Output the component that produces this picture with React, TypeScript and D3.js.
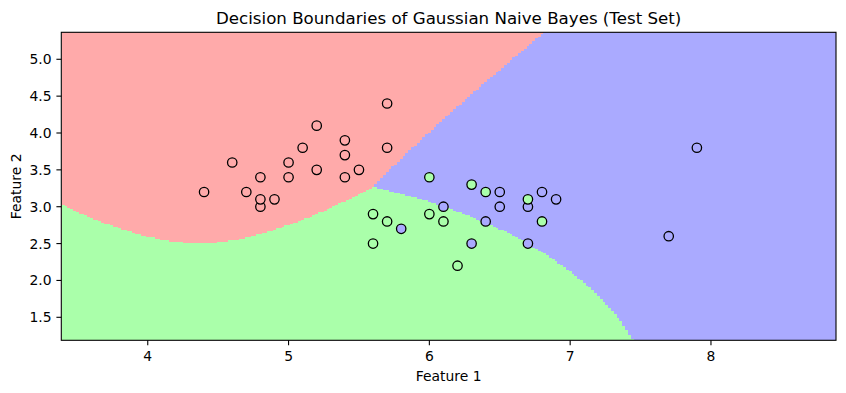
import React, { useMemo } from 'react';
import * as d3 from 'd3';

// ---- Test-set points (Feature 1, Feature 2, class) ----
const pointX = [
  4.4, 4.6, 4.7, 4.8, 4.8, 4.8, 4.9, 5.0, 5.0, 5.1, 5.2, 5.2, 5.4, 5.4, 5.4, 5.5, 5.7, 5.7,
  5.8, 6.5, 6.5, 6.8, 6.9, 6.3, 6.7, 6.7, 7.7, 7.9, 6.1, 6.4,
  6.0, 6.3, 6.4, 6.7, 6.8, 5.6, 5.7, 5.6, 6.0, 6.1, 6.2,
];
const pointY = [
  3.2, 3.6, 3.2, 3.4, 3.0, 3.1, 3.1, 3.6, 3.4, 3.8, 4.1, 3.5, 3.9, 3.7, 3.4, 3.5, 4.4, 3.8,
  2.7, 3.2, 3.0, 3.2, 3.1, 2.5, 2.5, 3.0, 2.6, 3.8, 3.0, 2.8,
  3.4, 3.3, 3.2, 3.1, 2.8, 2.9, 2.8, 2.5, 2.9, 2.8, 2.2,
];
const pointClass = [
  0, 0, 0, 0, 0, 0, 0, 0, 0, 0, 0, 0, 0, 0, 0, 0, 0, 0,
  2, 2, 2, 2, 2, 2, 2, 2, 2, 2, 2, 2,
  1, 1, 1, 1, 1, 1, 1, 1, 1, 1, 1,
];

// ---- Fitted Gaussian Naive Bayes parameters (per class) ----
const classColors = ['#FFAAAA', '#AAFFAA', '#AAAAFF'];
const classMeanX = [4.959, 5.882, 6.555];
const classMeanY = [3.393, 2.733, 2.982];
const classVarX = [0.109, 0.279, 0.412];
const classVarY = [0.132, 0.0863, 0.0947];
const classPrior = [0.324, 0.358, 0.349];

// ---- Axis ticks ----
const xTicks = [4, 5, 6, 7, 8];
const yTicks = [1.5, 2.0, 2.5, 3.0, 3.5, 4.0, 4.5, 5.0];

// ---- Mesh grid definition ----
const meshStep = 0.02;
const meshX0 = 3.4;
const meshX1 = 8.88;
const meshY0 = 1.2;
const meshY1 = 5.38;

const W = 846;
const H = 393;
const L = 61.3, R = 836, T = 32.3, B = 340.3;
const FONT = '"DejaVu Sans", sans-serif';

const xScale = d3.scaleLinear().domain([3.386, 8.888]).range([L, R]);
const yScale = d3.scaleLinear().domain([1.188, 5.366]).range([B, T]);

function predict(x: number, y: number): number {
  let best = 0;
  let bestV = -Infinity;
  for (let k = 0; k < classPrior.length; k++) {
    const v =
      Math.log(classPrior[k]) -
      0.5 * Math.log(2 * Math.PI * classVarX[k]) -
      0.5 * Math.log(2 * Math.PI * classVarY[k]) -
      ((x - classMeanX[k]) ** 2) / (2 * classVarX[k]) -
      ((y - classMeanY[k]) ** 2) / (2 * classVarY[k]);
    if (v > bestV) {
      bestV = v;
      best = k;
    }
  }
  return best;
}

type Run = { x0: number; x1: number; y: number; c: number };

export default function App() {
  const runs = useMemo(() => {
    const nx = Math.round((meshX1 - meshX0) / meshStep) + 1;
    const ny = Math.round((meshY1 - meshY0) / meshStep) + 1;
    const out: Run[] = [];
    for (let j = 0; j < ny; j++) {
      const y = meshY0 + j * meshStep;
      let start = 0;
      let cur = predict(meshX0, y);
      for (let i = 1; i <= nx; i++) {
        const c = i < nx ? predict(meshX0 + i * meshStep, y) : -1;
        if (c !== cur) {
          out.push({ x0: meshX0 + start * meshStep, x1: meshX0 + (i - 1) * meshStep, y, c: cur });
          start = i;
          cur = c;
        }
      }
    }
    return out;
  }, []);

  const h = meshStep / 2;

  return (
    <svg
      width={W}
      height={H}
      viewBox={`0 0 ${W} ${H}`}
      style={{ position: 'absolute', left: 0, top: 0, background: '#fff' }}
      fontFamily={FONT}
    >
      <defs>
        <clipPath id="plotClip">
          <rect x={L} y={T} width={R - L} height={B - T} />
        </clipPath>
      </defs>
      <g clipPath="url(#plotClip)" shapeRendering="crispEdges">
        {runs.map((r, i) => {
          const xa = xScale(r.x0 - h);
          const xb = xScale(r.x1 + h);
          const ya = yScale(r.y + h);
          const yb = yScale(r.y - h);
          return (
            <rect key={i} x={xa} y={ya} width={xb - xa + 0.3} height={yb - ya + 0.3} fill={classColors[r.c]} />
          );
        })}
      </g>
      <g clipPath="url(#plotClip)">
        {pointX.map((px, i) => (
          <circle
            key={i}
            cx={xScale(px)}
            cy={yScale(pointY[i])}
            r={4.7}
            fill={classColors[pointClass[i]]}
            stroke="#000"
            strokeWidth={1.3}
          />
        ))}
      </g>
      {/* spines */}
      <rect x={L} y={T} width={R - L} height={B - T} fill="none" stroke="#000" strokeWidth={1.1} />
      {/* x ticks */}
      {xTicks.map((t) => (
        <g key={t}>
          <line x1={xScale(t)} x2={xScale(t)} y1={B} y2={B + 4.9} stroke="#000" strokeWidth={1.1} />
          <text x={xScale(t)} y={B + 20.7} fontSize={13.9} textAnchor="middle" fill="#000">
            {t}
          </text>
        </g>
      ))}
      {/* y ticks */}
      {yTicks.map((t) => (
        <g key={t}>
          <line x1={L - 4.9} x2={L} y1={yScale(t)} y2={yScale(t)} stroke="#000" strokeWidth={1.1} />
          <text x={L - 9.8} y={yScale(t) + 5} fontSize={13.9} textAnchor="end" fill="#000">
            {t.toFixed(1)}
          </text>
        </g>
      ))}
      <text x={(L + R) / 2} y={381} fontSize={13.9} textAnchor="middle" fill="#000">
        Feature 1
      </text>
      <text
        transform={`translate(20.7, ${(T + B) / 2}) rotate(-90)`}
        fontSize={13.9}
        textAnchor="middle"
        fill="#000"
      >
        Feature 2
      </text>
      <text x={(L + R) / 2} y={24} fontSize={16.67} textAnchor="middle" fill="#000">
        Decision Boundaries of Gaussian Naive Bayes (Test Set)
      </text>
    </svg>
  );
}
